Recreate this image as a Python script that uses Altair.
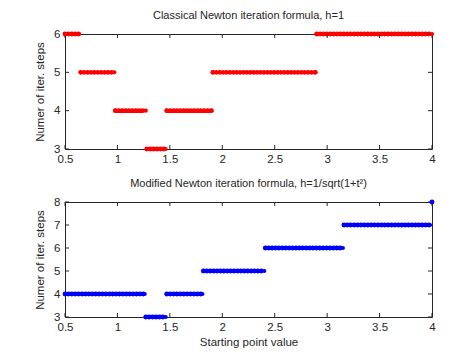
import altair as alt
import pandas as pd

# Classical Newton (top panel): segments of constant iteration count
top_start = [0.50, 0.65, 0.98, 1.28, 1.47, 1.91, 2.90]
top_end = [0.63, 0.97, 1.27, 1.46, 1.90, 2.89, 4.00]
top_steps = [6, 5, 4, 3, 4, 5, 6]

# Modified Newton (bottom panel)
bot_start = [0.50, 1.27, 1.47, 1.82, 2.41, 3.16, 4.00]
bot_end = [1.26, 1.46, 1.81, 2.40, 3.15, 3.98, 4.00]
bot_steps = [4, 3, 4, 5, 6, 7, 8]

x_ticks = [0.5, 1, 1.5, 2, 2.5, 3, 3.5, 4]
top_yticks = [3, 4, 5, 6]
bot_yticks = [3, 4, 5, 6, 7, 8]

FONT = "Liberation Sans"
TXT = "#262626"
W, H, TL = 367, 115, 4


def panel(starts, ends, steps, color, title, yticks, xtitle):
    seg = pd.DataFrame({"x": starts, "x2": ends, "y": steps})
    ends_df = pd.DataFrame({"x": starts + ends, "y": steps + steps})
    xt = pd.DataFrame({"x": x_ticks})
    yt = pd.DataFrame({"y": yticks})
    xs = alt.Scale(domain=[0.5, 4], nice=False, zero=False)
    ys = alt.Scale(domain=[min(yticks), max(yticks)], nice=False, zero=False)

    ax_bottom = alt.Axis(values=x_ticks, format="~g", ticks=False, labelPadding=4,
                         labelFlush=False, labelOverlap=False,
                         domain=False, grid=False,
                         title=xtitle if xtitle else "", titlePadding=4)
    ax_left = alt.Axis(values=yticks, format="d", ticks=False, labelPadding=5,
                       labelOverlap=False, labelFlush=False, domain=False,
                       grid=False, title="Numer of iter. steps", titlePadding=8)
    X = lambda: alt.X("x:Q", scale=xs, axis=ax_bottom)
    Y = lambda: alt.Y("y:Q", scale=ys, axis=ax_left)

    rules = alt.Chart(seg).mark_rule(
        color=color, strokeWidth=4.8, strokeDash=[0.1, 3.3], strokeCap="round"
    ).encode(x=X(), x2="x2:Q", y=Y())
    dots = alt.Chart(ends_df).mark_circle(color=color, size=18, opacity=1).encode(
        x=X(), y=Y())
    tick_style = dict(color=TXT, strokeWidth=1)
    xt_bot = alt.Chart(xt).mark_rule(**tick_style).encode(
        x=X(), y=alt.value(H), y2=alt.value(H - TL))
    xt_top = alt.Chart(xt).mark_rule(**tick_style).encode(
        x=X(), y=alt.value(0), y2=alt.value(TL))
    yt_left = alt.Chart(yt).mark_rule(**tick_style).encode(
        y=Y(), x=alt.value(0), x2=alt.value(TL))
    yt_right = alt.Chart(yt).mark_rule(**tick_style).encode(
        y=Y(), x=alt.value(W), x2=alt.value(W - TL))
    return alt.layer(rules, xt_bot, xt_top, yt_left, yt_right, dots).properties(
        width=W, height=H,
        title=alt.TitleParams(title, fontSize=11, font=FONT, fontWeight="normal",
                              color=TXT, offset=7, anchor="middle"),
    )


top = panel(top_start, top_end, top_steps, "#ff0000",
            "Classical Newton iteration formula, h=1", top_yticks, None)
bottom = panel(bot_start, bot_end, bot_steps, "#0000ff",
               "Modified Newton iteration formula, h=1/sqrt(1+t²)", bot_yticks,
               "Starting point value")

chart = alt.vconcat(top, bottom, spacing=12).properties(
    padding={"left": 26, "top": 1, "right": 5, "bottom": 0},
    background="white",
).configure_view(stroke=TXT, strokeWidth=1).configure_axis(
    labelFont=FONT, labelFontSize=11.5, labelColor=TXT,
    titleFont=FONT, titleFontSize=11.5, titleFontWeight="normal", titleColor=TXT,
)

chart.save("out.html", embed_options={"renderer": "svg", "actions": False})
